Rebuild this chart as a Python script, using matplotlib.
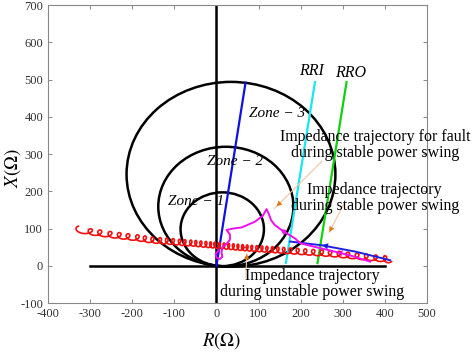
import numpy as np
import matplotlib
matplotlib.use("Agg")
import matplotlib.pyplot as plt

plt.rcParams['font.family'] = ['Liberation Serif', 'DejaVu Serif']
plt.rcParams['mathtext.fontset'] = 'stix'
plt.rcParams['axes.unicode_minus'] = False

# ---------------- data ----------------
x_ticks = [-400, -300, -200, -100, 0, 100, 200, 300, 400, 500]
y_ticks = [-100, 0, 100, 200, 300, 400, 500, 600, 700]

# mho zones: reach (Ohm) along the line angle (deg)
zone_names = ["Zone − 1", "Zone − 2", "Zone − 3"]
zone_reach = [198, 321, 496]
line_angle = 82.0
zone_label_R = [-48, 44, 144]
zone_label_X = [172, 281, 410]

# blinders
rri_R = [165, 234]
rri_X = [8, 493]
rro_R = [240, 309]
rro_X = [7, 493]
blinder_label_R = [226, 318]
blinder_label_X = [522, 518]

# axes lines
hline_R = [-300, 400]
vline_X = [-100, 700]

# red: unstable power swing (loop centres and local baseline)
red_loop_R = [-328, -300, -277, -253, -231, -210, -188, -170, -152, -134, -118,
              -103, -88, -75, -61, -49, -37, -25, -14, -4, 7, 18, 29, 40, 51,
              62, 73, 84, 96, 108, 120, 133, 146, 160, 176, 193, 211, 230, 250,
              270, 291, 312, 334, 356, 378, 400, 416]
red_loop_X = [98, 91, 88, 84, 81, 78, 75, 72, 69, 67.5, 66, 65, 63, 62, 61, 60,
              58.5, 57.3, 56.3, 55.4, 54.3, 53.2, 52.1, 51, 49.9, 48.8, 47.8,
              46.9, 46, 45.2, 44.2, 43.3, 42.3, 41.2, 40, 38.7, 37.3, 35.8, 34.3,
              32.8, 30.7, 28.3, 25.8, 23.3, 20.8, 18.3, 16]
red_arrow = [(60, 49), (78, 48)]

# magenta: fault during stable power swing
mag_R = [6, -2, 0, 8, 14, 12, 14, 25, 32, 32, 24, 40, 60, 91, 110, 119, 124, 130,
         138, 151, 167, 186, 200, 240, 281, 320, 365]
mag_X = [42, 32, 22, 18, 24, 36, 50, 60, 70, 84, 96, 100, 103, 118, 134, 152, 140,
         122, 110, 99, 87, 74, 60, 49, 38, 27, 11]
mag_arrows = [[(160, 92), (146, 103)], [(300, 33), (278, 39)]]

# blue: stable power swing
blue_R = [175, 250, 330, 412]
blue_X = [65, 55, 38, 15]
blue_arrow = [(262, 53), (244, 57)]

# annotations: text, text position, leader start, leader end
ann_text = ["Impedance trajectory for fault\nduring stable power swing",
            "Impedance trajectory\nduring stable power swing",
            "Impedance trajectory\nduring unstable power swing"]
ann_pos = [(377, 324), (376, 182), (228, -50)]
lead_start = [(250, 280), (302, 165), (70, -32)]
lead_end = [(138, 154), (268, 90), (72, 32)]

# ---------------- figure ----------------
fig = plt.figure(figsize=(4.74, 3.53), dpi=100)
ax = fig.add_axes([0.1013, 0.1416, 0.7995, 0.8442])
ax.set_xlim(-400, 500)
ax.set_ylim(-100, 700)
ax.set_xticks(x_ticks)
ax.set_yticks(y_ticks)
ax.tick_params(direction='in', top=True, right=True, length=3, color='#777777',
               labelsize=9, labelcolor='#333333', width=0.6)
for s in ax.spines.values():
    s.set_color('#888888')
    s.set_linewidth(0.8)

# axes lines
ax.plot(hline_R, [0, 0], color='black', lw=1.8, zorder=2)
ax.plot([0, 0], vline_X, color='black', lw=1.8, zorder=2)

# mho circles
th = np.deg2rad(line_angle)
for d in zone_reach:
    c = plt.Circle((d / 2 * np.cos(th), d / 2 * np.sin(th)), d / 2, fill=False,
                   color='black', lw=1.8, zorder=2)
    ax.add_patch(c)
ax.plot([0, zone_reach[-1] * np.cos(th)], [0, zone_reach[-1] * np.sin(th)],
        color='#1010E0', lw=1.6, zorder=3)
for name, r, x in zip(zone_names, zone_label_R, zone_label_X):
    ax.text(r, x, name, style='italic', fontsize=11, ha='center', va='center', zorder=5)

# blinders
ax.plot(rri_R, rri_X, color='#19E6F0', lw=1.6, zorder=3)
ax.plot(rro_R, rro_X, color='#10D010', lw=1.6, zorder=3)
for name, r, x in zip(["RRI", "RRO"], blinder_label_R, blinder_label_X):
    ax.text(r, x, name, style='italic', fontsize=11.5, ha='center', va='center')

# red trochoid trajectory
Rs, Xs = [], []
n = len(red_loop_R)
for i in range(n - 1):
    t = np.linspace(0, 2 * np.pi, 80, endpoint=False)
    sp = red_loop_R[i + 1] - red_loop_R[i]
    base_R = red_loop_R[i] + sp * t / (2 * np.pi)
    base_X = red_loop_X[i] + (red_loop_X[i + 1] - red_loop_X[i]) * t / (2 * np.pi)
    aR = 0.42 * sp
    aX = 8.0
    if i == n - 2:
        t = t[t <= 1.3 * np.pi]
        base_R = base_R[:len(t)]
        base_X = base_X[:len(t)]
        aX = 9.0
    Rs.append(base_R - aR * np.sin(t))
    Xs.append(base_X + aX * np.cos(t))
Rs = np.concatenate(Rs)
Xs = np.concatenate(Xs)
ax.plot(Rs, Xs, color='#F01010', lw=1.2, zorder=4)
ax.annotate('', xy=red_arrow[1], xytext=red_arrow[0],
            arrowprops=dict(arrowstyle='-|>', color='#F01010', lw=0, mutation_scale=10))

# blue trajectory
ax.plot(blue_R, blue_X, color='#2020E0', lw=1.4, zorder=4)
ax.annotate('', xy=blue_arrow[1], xytext=blue_arrow[0],
            arrowprops=dict(arrowstyle='-|>', color='#2020E0', lw=0, mutation_scale=11))

# magenta trajectory
ax.plot(mag_R, mag_X, color='#EE10EE', lw=1.4, zorder=4)
for a in mag_arrows:
    ax.annotate('', xy=a[1], xytext=a[0],
                arrowprops=dict(arrowstyle='-|>', color='#EE10EE', lw=0, mutation_scale=11))

# annotations
for txt, pos, s, e in zip(ann_text, ann_pos, lead_start, lead_end):
    ax.text(pos[0], pos[1], txt, fontsize=11.4, ha='center', va='center',
            linespacing=1.0, clip_on=False, zorder=6)
    ax.plot([s[0], e[0]], [s[1], e[1]], color='#F2C4A0', lw=0.8, zorder=3)
    dx, dy = e[0] - s[0], e[1] - s[1]
    ax.annotate('', xy=e, xytext=(e[0] - 0.12 * dx, e[1] - 0.12 * dy),
                arrowprops=dict(arrowstyle='-|>', color='#E07818', lw=0, mutation_scale=10))

fig.text(222 / 474, 1 - 341 / 353, r'$R(\Omega)$', fontsize=13.5, ha='center', va='center')
fig.text(13 / 474, 1 - 168 / 353, r'$X(\Omega)$', fontsize=13.5, ha='center', va='center',
         rotation=90)

fig.savefig('out.png', dpi=100)
